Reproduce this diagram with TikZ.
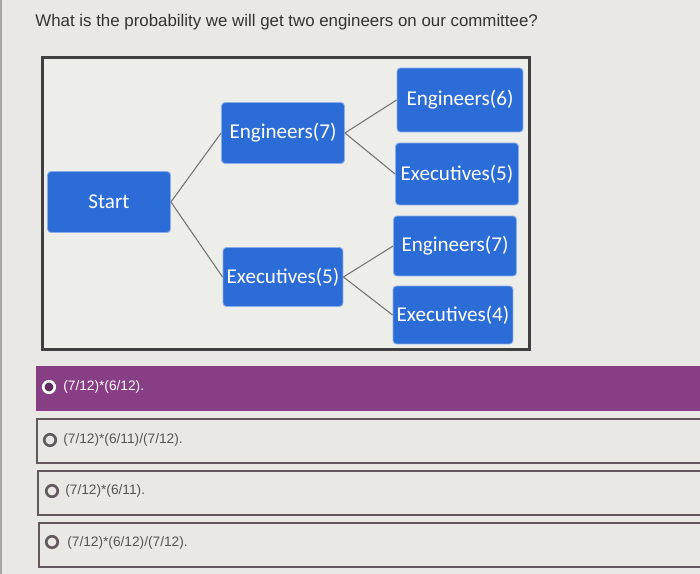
\documentclass[tikz,border=0pt]{standalone}
\usepackage{fontspec}
\setmainfont{Liberation Sans}
\newfontfamily\boxfont{Carlito}
\usepackage{tikz}
\definecolor{boxblue}{RGB}{44,108,214}
\definecolor{pagegray}{RGB}{233,232,229}
\definecolor{choicepurple}{RGB}{136,62,132}
\definecolor{choiceline}{RGB}{98,88,94}
\definecolor{textgray}{RGB}{85,85,85}
\tikzset{
    box/.style={rectangle, rounded corners=2pt, fill=boxblue, draw=boxblue!55!white, line width=.5pt, text=white, font=\boxfont\fontsize{12}{14}\selectfont, minimum width=2.46cm, minimum height=1.22cm, inner sep=0mm}
}
\tikzset{branch/.style={draw=black!55, line width=.6pt}}
\tikzset{
    choice/.style={rectangle, anchor=north west, draw=choiceline, line width=1pt, fill=pagegray, minimum width=13.5cm, minimum height=.88cm, inner sep=0mm},
    radio/.style={circle, draw=choiceline, line width=1.5pt, fill=pagegray, minimum size=.23cm, inner sep=0mm},
    answer/.style={anchor=west, inner sep=0mm, text=textgray, font=\fontsize{7.8}{9}\selectfont}
}

\begin{document}
\begin{tikzpicture}[x=.02cm, y=-.02cm]
  \useasboundingbox [fill=pagegray] (0,0) rectangle (700,574);
  \draw [black!35, line width=1pt] (1,0) -- (1,574);

  \node (q) [anchor=west, inner sep=0mm, text=black!80, font=\fontsize{9.6}{11}\selectfont] at (35,22) {What is the probability we will get two engineers on our committee?};

  % tree
  \node (frame) [rectangle, draw=black!75, line width=1.7pt, fill=pagegray!80!white, minimum width=9.76cm, minimum height=5.86cm] at (286,203.5) {};
  \node (s) [box] at (109,202) {Start};
  \node (e7) [box] at (283,133) {Engineers(7)};
  \node (x5) [box, minimum width=2.4cm, minimum height=1.18cm] at (283,277) {Executives(5)};
  \node (e6) [box, minimum width=2.52cm, minimum height=1.28cm] at (460,100) {Engineers(6)};
  \node (x5b) [box, minimum height=1.24cm] at (457,174) {Executives(5)};
  \node (e7b) [box, minimum height=1.2cm] at (455,246) {Engineers(7)};
  \node (x4) [box, minimum width=2.4cm, minimum height=1.16cm] at (453,315) {Executives(4)};

  \draw [branch] (s.east) edge (e7.west);
  \draw [branch] (s.east) edge (x5.west);
  \draw [branch] (e7.east) edge (e6.west);
  \draw [branch] (e7.east) edge (x5b.west);
  \draw [branch] (x5.east) edge (e7b.west);
  \draw [branch] (x5.east) edge (x4.west);

  % answers
  \node (c1) [choice, draw=none, fill=choicepurple, minimum height=.9cm] at (35,365) {};
  \node (c2) [choice] at (36,418) {};
  \node (c3) [choice] at (37,470) {};
  \node (c4) [choice] at (38,522) {};
  \node (r1) [radio, draw=white, fill=choicepurple!70!black] at (49,387) {};
  \node (r2) [radio] at (50,440) {};
  \node (r3) [radio] at (52,491) {};
  \node (r4) [radio] at (52,542) {};
  \node (t1) [answer, text=white] at (63,387) {(7/12)*(6/12).};
  \node (t2) [answer] at (63,440) {(7/12)*(6/11)/(7/12).};
  \node (t3) [answer] at (65,491) {(7/12)*(6/11).};
  \node (t4) [answer] at (67,543) {(7/12)*(6/12)/(7/12).};
\end{tikzpicture}
\end{document}
